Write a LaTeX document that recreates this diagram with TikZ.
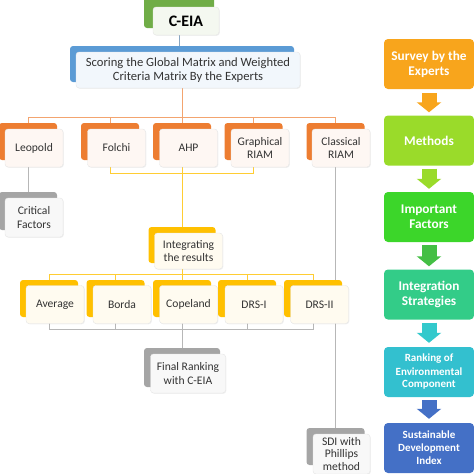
\documentclass[tikz,border=0pt]{standalone}
\usepackage{fontspec}
\setmainfont{Carlito}
\usetikzlibrary{arrows.meta}
\usetikzlibrary{backgrounds}
\usetikzlibrary{shadows}
\usepackage{xcolor}

\definecolor{cGreen}{HTML}{70AD47}
\definecolor{cBlue}{HTML}{5B9BD5}
\definecolor{cOrange}{HTML}{ED7D31}
\definecolor{cYellow}{HTML}{FFC000}
\definecolor{cGray}{HTML}{A5A5A5}
\definecolor{txtGray}{HTML}{333333}
\definecolor{sSurvey}{HTML}{F8A51C}
\definecolor{sMethod}{HTML}{9ADB2A}
\definecolor{sFactor}{HTML}{3CD62A}
\definecolor{aFactor}{HTML}{44BF44}
\definecolor{sInteg}{HTML}{33CC88}
\definecolor{aInteg}{HTML}{33C9CC}
\definecolor{sRank}{HTML}{33C0CF}
\definecolor{sIndex}{HTML}{4470C6}

\begin{document}
\begin{tikzpicture}[x=1pt, y=-1pt]
        % ================= styles =================
        \tikzset{
            % coloured tab behind each card
            tab/.style={rounded corners=3pt, minimum width=58pt, minimum height=37pt, inner sep=0pt},
            % light card in front
            card/.style={rounded corners=3pt, draw=black!10, line width=0.4pt, minimum width=58pt, minimum height=38pt,
                         inner sep=1pt, align=center, text=txtGray, font=\fontsize{11.6}{13.5}\selectfont,
                         drop shadow={opacity=0.12, shadow xshift=0.8pt, shadow yshift=-0.8pt}},
            % stages of the right column
            stage/.style={rounded corners=4pt, minimum width=90pt, minimum height=50pt, inner sep=1pt, align=center,
                          text=white, font=\bfseries\fontsize{13.3}{15}\selectfont},
            stagesmall/.style={stage, font=\bfseries\fontsize{11}{13}\selectfont},
            blockarrow/.style={-{Triangle[width=24pt, length=10pt]}, line width=15pt},
            % connectors
            lineBlue/.style={line width=0.8pt, cBlue!60!gray!80},
            lineOrange/.style={line width=0.8pt, cOrange!70},
            lineYellow/.style={line width=0.8pt, cYellow!80},
            lineGray/.style={line width=0.8pt, cGray!80}
        }
        \useasboundingbox (0,0) rectangle (474,474);

        % ================= top: C-EIA and scoring =================
        \node[tab, fill=cGreen, minimum width=70pt, minimum height=32pt] (ceia-t) at (179,12) {};
        \node[card, fill=cGreen!8!white, minimum width=66pt, minimum height=28pt, font=\bfseries\fontsize{16}{18}\selectfont, text=black] (ceia) at (186,21) {C-EIA};

        \node[tab, fill=cBlue, minimum width=224pt, minimum height=36pt] (sco-t) at (182,64) {};
        \node[card, fill=cBlue!8!white, minimum width=224pt, minimum height=36pt, font=\fontsize{12.6}{14}\selectfont] (sco) at (188,70)
            {Scoring the Global Matrix and Weighted\\Criteria Matrix By the Experts};

        % ================= methods (orange) =================
        \node[tab, fill=cOrange] (leo-t) at (28,141.5) {};
        \node[card, fill=cOrange!6!white] (leo) at (34,148) {Leopold};
        \node[tab, fill=cOrange] (fol-t) at (110,141.5) {};
        \node[card, fill=cOrange!6!white] (fol) at (116.5,148) {Folchi};
        \node[tab, fill=cOrange] (ahp-t) at (182,141.5) {};
        \node[card, fill=cOrange!6!white] (ahp) at (188.5,148) {AHP};
        \node[tab, fill=cOrange] (gra-t) at (253.5,141.5) {};
        \node[card, fill=cOrange!6!white] (gra) at (260,148) {Graphical\\RIAM};
        \node[tab, fill=cOrange] (cla-t) at (335.5,141.5) {};
        \node[card, fill=cOrange!6!white] (cla) at (341,148) {Classical\\RIAM};

        % ================= critical factors / integrating =================
        \node[tab, fill=cGray, minimum height=38pt] (crit-t) at (28,211) {};
        \node[card, fill=cGray!8!white, minimum height=39pt] (crit) at (34,217.5) {Critical\\Factors};

        \node[tab, fill=cYellow, minimum width=67pt, minimum height=36pt] (int-t) at (182,245) {};
        \node[card, fill=cYellow!6!white, minimum width=68pt, minimum height=36pt] (int) at (188.5,251) {Integrating\\the results};

        % ================= strategies (yellow) =================
        \node[tab, fill=cYellow] (avg-t) at (49,298.5) {};
        \node[card, fill=cYellow!6!white] (avg) at (55,304.5) {Average};
        \node[tab, fill=cYellow] (bor-t) at (115.5,298.5) {};
        \node[card, fill=cYellow!6!white] (bor) at (122,304.5) {Borda};
        \node[tab, fill=cYellow] (cop-t) at (182,298.5) {};
        \node[card, fill=cYellow!6!white] (cop) at (188.5,304.5) {Copeland};
        \node[tab, fill=cYellow] (drs1-t) at (247,298.5) {};
        \node[card, fill=cYellow!6!white] (drs1) at (254,304.5) {DRS-I};
        \node[tab, fill=cYellow] (drs2-t) at (313,298.5) {};
        \node[card, fill=cYellow!6!white] (drs2) at (319.5,304.5) {DRS-II};

        % ================= results (gray) =================
        \node[tab, fill=cGray, minimum width=76pt, minimum height=39pt] (fin-t) at (182,367.5) {};
        \node[card, fill=cGray!8!white, minimum width=75pt, minimum height=39pt] (fin) at (188,373.5) {Final Ranking\\with C-EIA};
        \node[tab, fill=cGray, minimum height=37pt] (sdi-t) at (335.5,446.5) {};
        \node[card, fill=cGray!8!white, minimum width=57pt, minimum height=40pt, font=\fontsize{11.6}{12.5}\selectfont] (sdi) at (341.5,454) {SDI with\\Phillips\\method};

        % ================= connectors =================
        \coordinate (busO) at (182,117);
        \coordinate (brY) at (182,173);
        \coordinate (busY) at (182,274);
        \coordinate (brG) at (182,329);
        \begin{scope}[on background layer]
            \draw[lineBlue] (ceia-t.center) -- (ceia-t.center |- sco-t.north);
            \draw[lineOrange] (sco-t.center) -- (busO);
            \foreach \n in {leo,fol,ahp,gra,cla}
                \draw[lineOrange] (busO) -| (\n-t.north);
            \foreach \n in {fol,gra}
                \draw[lineYellow] (\n-t.center) |- (brY);
            \draw[lineYellow] (ahp-t.center) -- (int-t.north);
            \draw[lineGray] (leo-t.center) -- (crit-t.north);
            \draw[lineGray] (cla-t.center) -- (sdi-t.north);
            \draw[lineYellow] (int-t.center) -- (busY);
            \foreach \n in {avg,bor,cop,drs1,drs2}
                \draw[lineYellow] (busY) -| (\n-t.north);
            \foreach \n in {avg,bor,drs1,drs2}
                \draw[lineGray] (\n-t.center) |- (brG);
            \draw[lineGray] (cop-t.center) -- (fin-t.north);
        \end{scope}

        % ================= right column =================
        \node[stage, fill=sSurvey] (sur) at (429,64) {Survey by the\\Experts};
        \node[stage, fill=sMethod] (met) at (429,140.5) {Methods};
        \node[stage, fill=sFactor] (imp) at (429,217) {Important\\Factors};
        \node[stage, fill=sInteg] (intg) at (429,294.5) {Integration\\Strategies};
        \node[stagesmall, fill=sRank] (rank) at (429,372) {Ranking of\\Environmental\\Component};
        \node[stagesmall, fill=sIndex] (sdx) at (429,448) {Sustainable\\Development\\Index};

        \draw[blockarrow, sSurvey] ([yshift=-4pt]sur.south) -- ([yshift=3pt]met.north);
        \draw[blockarrow, sMethod] ([yshift=-3pt]met.south) -- ([yshift=3pt]imp.north);
        \draw[blockarrow, aFactor] ([yshift=-3pt]imp.south) -- ([yshift=3pt]intg.north);
        \draw[blockarrow, aInteg] ([yshift=-3pt]intg.south) -- ([yshift=4pt]rank.north);
        \draw[blockarrow, sIndex] ([yshift=-3pt]rank.south) -- ([yshift=4pt]sdx.north);

    \end{tikzpicture}
\end{document}
